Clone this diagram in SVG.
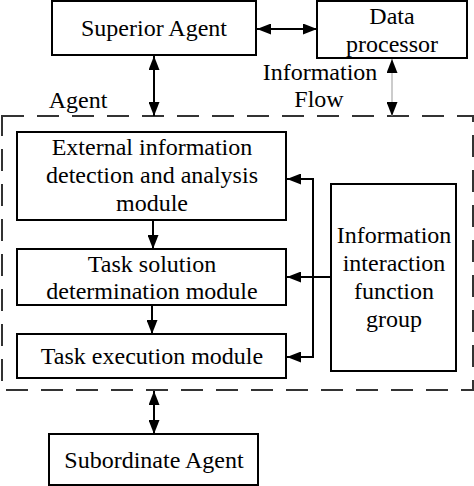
<svg xmlns="http://www.w3.org/2000/svg" width="474" height="486" viewBox="0 0 474 486">
<defs>
<style>
.box{fill:#fff;stroke:#000;stroke-width:2}
.t{font-family:"Liberation Serif","Times New Roman",serif;font-size:24px;fill:#000;text-anchor:middle}
.c{fill:none;stroke:#000;stroke-width:2}
.g{fill:none;stroke:#aaa;stroke-width:1.2}
.dash{fill:none;stroke:#333;stroke-width:2;stroke-dasharray:22 13}
</style>
<marker id="ah" markerUnits="userSpaceOnUse" markerWidth="14" markerHeight="11" refX="14" refY="5.5" orient="auto-start-reverse">
<path d="M0,0 L14,5.5 L0,11 z" fill="#000"/>
</marker>
</defs>
<rect id="agent-boundary" class="dash" x="2" y="116" width="471" height="274"/>
<g id="superior-agent">
<rect class="box" x="52" y="1" width="204" height="54"/>
<text class="t" x="154" y="36">Superior Agent</text>
</g>
<g id="data-processor">
<rect class="box" x="317" y="1" width="150" height="57"/>
<text class="t" x="392" y="24">Data</text>
<text class="t" x="392" y="52">processor</text>
</g>
<g id="labels">
<text class="t" x="320" y="80">Information</text>
<text class="t" x="319" y="107">Flow</text>
<text class="t" x="78" y="108">Agent</text>
</g>
<g id="external-info">
<rect class="box" x="17" y="132" width="269" height="88"/>
<text class="t" x="152" y="155">External information</text>
<text class="t" x="152" y="183">detection and analysis</text>
<text class="t" x="152" y="211">module</text>
</g>
<g id="task-solution">
<rect class="box" x="17" y="249" width="269" height="56"/>
<text class="t" x="152" y="272">Task solution</text>
<text class="t" x="152" y="299">determination module</text>
</g>
<g id="task-execution">
<rect class="box" x="17" y="334" width="269" height="44"/>
<text class="t" x="152" y="364">Task execution module</text>
</g>
<g id="info-interaction">
<rect class="box" x="331" y="184" width="125" height="187"/>
<text class="t" x="394" y="243">Information</text>
<text class="t" x="394" y="271">interaction</text>
<text class="t" x="394" y="299">function</text>
<text class="t" x="394" y="327">group</text>
</g>
<g id="subordinate-agent">
<rect class="box" x="49" y="434" width="209" height="51"/>
<text class="t" x="154" y="468">Subordinate Agent</text>
</g>
<g id="connectors">
<line class="c" x1="257" y1="29" x2="317" y2="29" marker-start="url(#ah)" marker-end="url(#ah)"/>
<line class="c" x1="154" y1="56" x2="154" y2="116" marker-start="url(#ah)" marker-end="url(#ah)"/>
<line class="g" x1="392" y1="59" x2="392" y2="116" marker-start="url(#ah)" marker-end="url(#ah)"/>
<line class="c" x1="153" y1="220" x2="153" y2="249" marker-end="url(#ah)"/>
<line class="c" x1="152" y1="305" x2="152" y2="334" marker-end="url(#ah)"/>
<line class="c" x1="331" y1="277" x2="287" y2="277" marker-end="url(#ah)"/>
<line class="c" x1="313" y1="178" x2="313" y2="358"/>
<line class="c" x1="314" y1="179" x2="287" y2="179" marker-end="url(#ah)"/>
<line class="c" x1="314" y1="357" x2="287" y2="357" marker-end="url(#ah)"/>
<line class="c" x1="154" y1="391" x2="154" y2="434" marker-start="url(#ah)" marker-end="url(#ah)"/>
</g>
</svg>
